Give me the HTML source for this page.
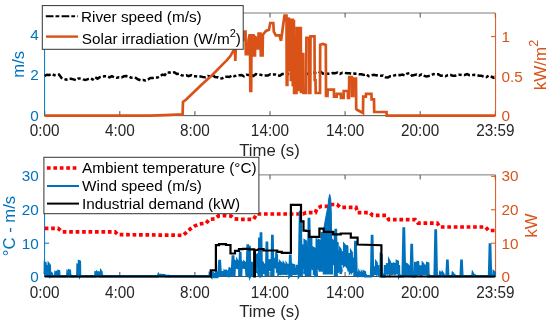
<!DOCTYPE html>
<html><head><meta charset="utf-8"><style>html,body{margin:0;padding:0;background:#fff;width:550px;height:324px;overflow:hidden}</style></head>
<body>
<svg width="550" height="324" viewBox="0 0 550 324" style="position:absolute;left:0;top:0;font-family:'Liberation Sans', Arial, Helvetica, sans-serif">
<rect width="550" height="324" fill="#fff"/>
<line x1="44.7" y1="13.0" x2="495.3" y2="13.0" stroke="#7a7a7a" stroke-width="1"/>
<line x1="44.7" y1="115.65" x2="495.3" y2="115.65" stroke="#4d4d4d" stroke-width="1"/>
<line x1="44.7" y1="115.65" x2="44.7" y2="111.15" stroke="#4d4d4d" stroke-width="1"/>
<line x1="44.7" y1="13.0" x2="44.7" y2="17.5" stroke="#4d4d4d" stroke-width="1"/>
<line x1="119.8" y1="115.65" x2="119.8" y2="111.15" stroke="#4d4d4d" stroke-width="1"/>
<line x1="119.8" y1="13.0" x2="119.8" y2="17.5" stroke="#4d4d4d" stroke-width="1"/>
<line x1="194.9" y1="115.65" x2="194.9" y2="111.15" stroke="#4d4d4d" stroke-width="1"/>
<line x1="194.9" y1="13.0" x2="194.9" y2="17.5" stroke="#4d4d4d" stroke-width="1"/>
<line x1="270.0" y1="115.65" x2="270.0" y2="111.15" stroke="#4d4d4d" stroke-width="1"/>
<line x1="270.0" y1="13.0" x2="270.0" y2="17.5" stroke="#4d4d4d" stroke-width="1"/>
<line x1="345.1" y1="115.65" x2="345.1" y2="111.15" stroke="#4d4d4d" stroke-width="1"/>
<line x1="345.1" y1="13.0" x2="345.1" y2="17.5" stroke="#4d4d4d" stroke-width="1"/>
<line x1="420.2" y1="115.65" x2="420.2" y2="111.15" stroke="#4d4d4d" stroke-width="1"/>
<line x1="420.2" y1="13.0" x2="420.2" y2="17.5" stroke="#4d4d4d" stroke-width="1"/>
<line x1="495.3" y1="115.65" x2="495.3" y2="111.15" stroke="#4d4d4d" stroke-width="1"/>
<line x1="495.3" y1="13.0" x2="495.3" y2="17.5" stroke="#4d4d4d" stroke-width="1"/>
<line x1="44.6" y1="13.0" x2="44.6" y2="116.15" stroke="#0072BD" stroke-width="1"/>
<line x1="495.6" y1="13.0" x2="495.6" y2="116.15" stroke="#D95319" stroke-width="1"/>
<line x1="44.6" y1="115.65" x2="49.1" y2="115.65" stroke="#0072BD" stroke-width="1"/>
<line x1="44.6" y1="75.2" x2="49.1" y2="75.2" stroke="#0072BD" stroke-width="1"/>
<line x1="44.6" y1="34.7" x2="49.1" y2="34.7" stroke="#0072BD" stroke-width="1"/>
<line x1="491" y1="115.65" x2="495.6" y2="115.65" stroke="#D95319" stroke-width="1"/>
<line x1="491" y1="76.2" x2="495.6" y2="76.2" stroke="#D95319" stroke-width="1"/>
<line x1="491" y1="36.6" x2="495.6" y2="36.6" stroke="#D95319" stroke-width="1"/>
<line x1="44.7" y1="174.9" x2="495.3" y2="174.9" stroke="#7a7a7a" stroke-width="1"/>
<line x1="44.7" y1="276.5" x2="495.3" y2="276.5" stroke="#4d4d4d" stroke-width="1"/>
<line x1="44.7" y1="276.5" x2="44.7" y2="272.0" stroke="#4d4d4d" stroke-width="1"/>
<line x1="44.7" y1="174.9" x2="44.7" y2="179.4" stroke="#4d4d4d" stroke-width="1"/>
<line x1="119.8" y1="276.5" x2="119.8" y2="272.0" stroke="#4d4d4d" stroke-width="1"/>
<line x1="119.8" y1="174.9" x2="119.8" y2="179.4" stroke="#4d4d4d" stroke-width="1"/>
<line x1="194.9" y1="276.5" x2="194.9" y2="272.0" stroke="#4d4d4d" stroke-width="1"/>
<line x1="194.9" y1="174.9" x2="194.9" y2="179.4" stroke="#4d4d4d" stroke-width="1"/>
<line x1="270.0" y1="276.5" x2="270.0" y2="272.0" stroke="#4d4d4d" stroke-width="1"/>
<line x1="270.0" y1="174.9" x2="270.0" y2="179.4" stroke="#4d4d4d" stroke-width="1"/>
<line x1="345.1" y1="276.5" x2="345.1" y2="272.0" stroke="#4d4d4d" stroke-width="1"/>
<line x1="345.1" y1="174.9" x2="345.1" y2="179.4" stroke="#4d4d4d" stroke-width="1"/>
<line x1="420.2" y1="276.5" x2="420.2" y2="272.0" stroke="#4d4d4d" stroke-width="1"/>
<line x1="420.2" y1="174.9" x2="420.2" y2="179.4" stroke="#4d4d4d" stroke-width="1"/>
<line x1="495.3" y1="276.5" x2="495.3" y2="272.0" stroke="#4d4d4d" stroke-width="1"/>
<line x1="495.3" y1="174.9" x2="495.3" y2="179.4" stroke="#4d4d4d" stroke-width="1"/>
<line x1="44.6" y1="174.9" x2="44.6" y2="277.0" stroke="#0072BD" stroke-width="1"/>
<line x1="495.6" y1="174.9" x2="495.6" y2="277.0" stroke="#D95319" stroke-width="1"/>
<line x1="44.6" y1="276.5" x2="49.1" y2="276.5" stroke="#0072BD" stroke-width="1"/>
<line x1="44.6" y1="243.2" x2="49.1" y2="243.2" stroke="#0072BD" stroke-width="1"/>
<line x1="44.6" y1="209.8" x2="49.1" y2="209.8" stroke="#0072BD" stroke-width="1"/>
<line x1="44.6" y1="176.3" x2="49.1" y2="176.3" stroke="#0072BD" stroke-width="1"/>
<line x1="491" y1="276.5" x2="495.6" y2="276.5" stroke="#D95319" stroke-width="1"/>
<line x1="491" y1="243.2" x2="495.6" y2="243.2" stroke="#D95319" stroke-width="1"/>
<line x1="491" y1="209.8" x2="495.6" y2="209.8" stroke="#D95319" stroke-width="1"/>
<line x1="491" y1="176.3" x2="495.6" y2="176.3" stroke="#D95319" stroke-width="1"/>
<polyline points="44.70,75.81 47.10,74.68 49.50,75.03 51.90,73.94 54.30,75.13 56.70,74.94 59.10,74.53 61.50,77.92 63.90,78.97 66.30,79.72 68.70,78.80 71.10,78.72 73.50,79.33 75.90,80.11 78.30,78.47 80.70,78.61 83.10,79.42 85.50,80.04 87.90,79.07 90.30,78.42 92.70,79.43 95.10,77.12 97.50,78.65 99.90,77.12 102.30,76.50 104.70,76.15 107.10,76.27 109.50,77.31 111.90,76.22 114.30,77.41 116.70,77.84 119.10,77.34 121.50,77.55 123.90,76.30 126.30,76.12 128.70,76.47 131.10,77.75 133.50,77.43 135.90,77.86 138.30,79.50 140.70,80.26 143.10,80.00 145.50,80.47 147.90,79.64 150.30,78.02 152.70,78.11 155.10,77.37 157.50,77.51 159.90,76.38 162.30,74.52 164.70,75.16 167.10,72.38 169.50,72.53 171.90,72.88 174.30,72.32 176.70,73.89 179.10,73.69 181.50,75.25 183.90,75.64 186.30,75.39 188.70,76.24 191.10,75.22 193.50,76.28 195.90,76.28 198.30,76.47 200.70,76.39 203.10,77.13 205.50,77.26 207.90,76.12 210.30,76.44 212.70,75.16 215.10,76.99 217.50,77.29 219.90,78.47 222.30,78.33 224.70,76.84 227.10,76.75 229.50,77.06 231.90,75.40 234.30,76.24 236.70,75.47 239.10,75.24 241.50,74.97 243.90,76.38 246.30,74.82 248.70,74.93 251.10,75.08 253.50,75.96 255.90,74.05 258.30,74.68 260.70,74.81 263.10,75.54 265.50,75.40 267.90,75.50 270.30,74.21 272.70,74.51 275.10,74.39 277.50,75.55 279.90,75.71 282.30,73.93 284.70,73.95 287.10,74.02 289.50,73.98 291.90,74.48 294.30,74.55 296.70,73.62 299.10,72.84 301.50,73.54 303.90,73.22 306.30,73.48 308.70,74.15 311.10,73.40 313.50,72.84 315.90,73.06 318.30,73.19 320.70,71.82 323.10,73.68 325.50,73.42 327.90,73.77 330.30,73.74 332.70,72.99 335.10,73.15 337.50,72.64 339.90,73.91 342.30,72.75 344.70,72.86 347.10,73.28 349.50,73.31 351.90,73.94 354.30,73.55 356.70,73.67 359.10,74.24 361.50,74.33 363.90,74.95 366.30,74.25 368.70,76.16 371.10,75.62 373.50,74.70 375.90,75.15 378.30,75.58 380.70,75.84 383.10,75.53 385.50,77.23 387.90,77.44 390.30,76.18 392.70,76.12 395.10,75.14 397.50,74.96 399.90,75.12 402.30,74.58 404.70,75.46 407.10,73.62 409.50,73.32 411.90,75.66 414.30,75.03 416.70,74.50 419.10,75.51 421.50,74.40 423.90,75.53 426.30,76.55 428.70,75.99 431.10,75.29 433.50,74.01 435.90,74.29 438.30,74.18 440.70,75.83 443.10,75.57 445.50,76.11 447.90,75.13 450.30,74.89 452.70,75.85 455.10,75.75 457.50,74.98 459.90,74.67 462.30,74.96 464.70,75.05 467.10,74.18 469.50,75.16 471.90,75.16 474.30,74.79 476.70,75.02 479.10,75.69 481.50,75.77 483.90,76.79 486.30,77.11 488.70,75.72 491.10,76.54 493.50,77.73 494.30,77.20" fill="none" stroke="#000" stroke-width="2.5" stroke-dasharray="6.4 2.2 3.2 2.2"/>
<polyline points="44.70,115.65 150.00,115.65 165.00,115.20 182.60,114.30 183.00,101.90 186.50,99.30 195.00,91.00 201.50,84.70 212.50,74.70 223.90,63.10 226.50,60.60 230.20,56.30 233.90,49.80 234.80,48.00 235.30,61.00 235.80,46.00 240.00,42.00 243.40,40.00 244.50,31.50 245.50,31.50 245.80,54.20 248.00,54.20 248.50,40.00 249.50,35.30 250.00,35.30 250.30,90.80 251.20,90.80 251.50,35.30 253.50,35.30 253.80,55.30 255.00,55.30 255.30,37.00 257.00,38.00 257.30,48.40 258.30,48.40 258.60,33.60 260.50,33.60 260.80,55.30 262.60,55.30 262.90,34.70 266.00,31.00 269.00,29.80 270.20,23.00 273.30,23.00 273.80,31.60 275.80,35.30 279.50,35.30 281.00,40.90 282.00,34.00 283.50,22.30 284.50,15.50 286.50,15.50 286.70,85.00 287.40,85.00 287.60,18.60 288.40,18.60 288.60,70.00 289.60,70.00 289.80,19.50 290.60,19.90 290.80,80.00 291.60,80.00 291.80,19.90 292.60,19.90 292.80,85.00 293.40,85.00 293.60,21.00 293.90,21.00 294.10,93.00 296.50,93.00 296.70,28.00 298.40,28.00 298.60,90.00 299.40,90.00 299.60,28.00 300.80,28.00 301.00,92.00 302.00,92.00 302.30,54.00 303.30,54.00 303.50,93.00 306.20,93.00 306.40,37.80 309.20,37.80 309.40,93.00 310.30,93.00 310.50,36.40 314.50,36.40 314.70,80.00 315.50,80.00 315.70,93.00 320.00,93.00 320.20,44.70 323.00,44.00 325.80,45.00 326.00,96.00 327.50,96.00 327.70,89.70 333.90,89.70 334.00,96.70 336.70,96.70 336.80,93.90 340.80,93.90 341.00,98.00 343.60,98.00 343.70,91.00 347.80,91.00 348.00,98.00 349.00,98.00 349.20,77.20 351.80,77.20 352.00,96.00 353.30,96.00 353.40,78.60 356.00,78.60 356.20,109.00 357.50,110.00 363.00,113.00 363.20,96.70 365.80,96.70 366.00,93.90 371.40,93.90 371.60,99.40 374.00,99.40 374.20,112.00 386.50,112.00 386.70,115.65 495.30,115.65" fill="none" stroke="#D95319" stroke-width="2.7" stroke-linejoin="miter"/>
<polyline points="44.70,228.30 58.00,228.30 62.00,231.80 115.00,231.80 118.00,234.60 183.00,235.30 190.20,229.00 194.50,226.10 199.60,223.90 206.20,223.20 209.10,219.50 214.90,218.80 218.50,215.90 224.40,215.50 231.00,216.00 234.50,218.80 241.00,219.30 253.50,219.30 257.00,214.00 303.00,214.00 306.00,212.70 315.40,212.70 316.80,208.60 321.00,206.40 329.00,206.40 331.70,204.50 337.20,204.50 340.00,207.30 356.00,207.30 357.60,212.70 370.00,212.70 372.60,215.40 386.00,215.40 388.80,219.60 415.20,219.60 418.00,223.10 437.20,223.10 440.00,227.00 485.60,227.00 488.50,230.50 495.00,230.50" fill="none" stroke="#f00" stroke-width="3.7" stroke-dasharray="3.7 2.75"/>
<polyline points="44.70,274.09 44.90,262.76 45.50,263.10 45.70,275.63 45.83,274.84 46.13,266.08 47.28,266.80 47.48,274.79 47.48,275.84 47.30,274.68 47.50,267.09 48.60,268.22 48.80,275.20 48.41,274.67 48.71,263.86 49.83,265.32 50.03,275.33 49.78,274.41 48.60,274.55 48.80,271.34 49.31,271.57 49.51,275.46 50.35,275.91 50.65,272.65 51.93,273.64 52.13,275.79 51.98,275.92 51.60,276.30 54.80,276.30 55.20,275.97 55.40,272.57 56.38,273.36 56.58,275.37 56.65,275.41 56.95,272.25 57.54,272.63 57.74,275.80 58.04,275.61 58.34,270.98 59.12,271.18 59.32,275.39 59.52,275.69 58.40,276.30 67.00,276.30 67.30,274.83 67.50,272.43 68.28,273.80 68.48,275.66 68.83,275.65 69.13,270.44 69.92,270.72 70.12,276.00 70.66,275.88 70.70,276.30 77.00,276.30 77.30,275.05 77.50,265.00 78.40,265.49 78.60,275.04 78.68,274.54 78.98,261.16 79.88,261.53 80.08,275.48 80.32,275.06 79.90,276.30 95.00,276.30 95.30,274.88 95.50,272.45 96.72,273.12 96.92,275.63 96.80,275.69 97.10,272.31 97.91,273.11 98.11,275.71 98.76,275.57 99.06,272.69 100.31,273.08 100.51,275.66 100.71,275.49 101.01,271.18 101.52,271.84 101.72,275.96 102.10,275.96 102.00,276.30 158.00,276.30 158.50,274.66 158.70,274.97 159.91,275.20 160.11,275.87 160.99,275.97 161.29,275.03 162.56,275.36 162.76,275.83 163.27,275.91 163.57,275.09 164.72,275.34 164.92,275.92 165.69,275.94 165.00,276.30 209.50,276.30 209.60,276.61 209.80,272.64 210.85,272.67 211.05,276.67 211.36,276.99 211.66,272.66 212.62,273.43 212.82,276.96 213.75,276.53 214.05,273.94 214.54,274.34 214.74,276.98 215.94,276.84 216.24,272.26 217.02,273.63 217.22,276.51 217.62,276.91 218.30,276.30 219.34,261.00 219.86,261.00 220.90,276.30 221.50,273.66 221.70,272.03 222.73,272.16 222.93,275.47 224.20,275.27 224.50,271.13 225.75,272.08 225.95,275.07 226.23,275.04 226.53,271.12 227.70,271.80 227.90,275.32 228.86,275.00 229.16,271.48 229.67,272.27 229.87,275.37 230.92,275.41 229.60,275.90 229.80,268.65 230.48,269.10 230.68,275.27 231.65,275.52 231.70,276.30 232.74,256.40 233.26,256.40 234.30,276.30 234.70,267.64 234.90,261.11 235.32,261.49 235.52,267.99 236.92,267.47 237.22,260.61 238.05,262.01 238.25,267.90 239.33,267.59 239.30,276.30 240.02,253.00 240.38,253.00 241.10,276.30 241.50,267.01 241.70,262.00 242.45,262.76 242.65,267.26 243.98,267.63 244.28,262.00 245.32,262.95 245.52,267.56 245.90,267.94 246.70,276.30 247.58,245.40 248.02,245.40 248.90,276.30 248.80,276.30 249.36,247.00 249.64,247.00 250.20,276.30 250.50,275.74 250.70,262.40 251.77,262.78 251.97,275.73 252.30,274.59 252.60,266.88 253.60,267.30 253.80,275.59 254.45,275.23 254.00,271.68 254.20,263.78 254.84,265.23 255.04,270.83 256.36,271.71 256.00,266.07 256.20,254.86 256.92,254.86 257.12,267.31 258.27,267.10 258.57,254.21 259.42,254.21 259.62,267.52 260.18,267.28 258.70,276.30 259.26,238.60 259.54,238.60 260.10,276.30 260.20,276.30 260.84,233.50 261.16,233.50 261.80,276.30 261.80,273.92 262.00,262.11 262.67,262.46 262.87,273.16 264.14,272.92 264.44,265.16 265.48,266.47 265.68,273.44 266.33,272.58 266.00,276.30 266.72,242.80 267.08,242.80 267.80,276.30 267.80,270.70 268.00,260.34 268.98,260.41 269.18,269.50 270.57,269.87 270.87,260.40 272.00,260.61 272.20,270.06 272.98,269.50 271.50,276.30 272.22,236.00 272.58,236.00 273.30,276.30 273.50,266.39 273.70,258.63 274.63,259.97 274.83,266.85 276.03,267.61 276.33,254.17 276.85,254.72 277.05,267.82 278.83,267.06 277.00,272.74 277.20,262.76 278.21,263.49 278.41,273.99 279.66,272.65 279.96,262.02 280.84,263.01 281.04,273.88 282.34,273.55 280.50,273.85 280.70,263.27 281.76,263.58 281.96,272.93 283.37,273.29 283.67,263.84 284.50,264.86 284.70,272.90 285.91,273.07 283.90,273.85 284.10,264.59 284.73,265.70 284.93,273.63 286.28,273.99 286.58,264.24 287.22,265.25 287.42,273.17 288.89,273.65 289.19,266.07 290.01,266.77 290.21,273.86 291.76,273.76 289.40,276.30 290.12,255.60 290.48,255.60 291.20,276.30 290.50,272.54 290.70,262.93 291.12,263.62 291.32,272.68 293.36,273.50 292.40,273.96 292.60,264.88 293.85,265.20 294.05,273.77 294.27,273.84 294.57,268.00 295.09,269.23 295.29,273.86 297.13,273.61 296.40,272.54 296.60,265.95 297.44,265.99 297.64,273.00 298.69,272.40 298.99,263.33 299.52,263.84 299.72,272.58 301.50,273.00 298.90,276.30 300.02,212.00 300.58,212.00 301.70,276.30 301.80,268.50 302.00,244.75 302.51,246.14 302.71,266.75 304.58,268.68 304.40,274.26 304.60,240.44 305.90,241.33 306.10,273.23 306.61,273.65 306.00,275.90 306.20,252.98 307.35,253.40 307.55,273.31 308.00,275.23 307.90,276.30 308.78,218.90 309.22,218.90 310.10,276.30 310.30,270.98 310.50,236.89 311.24,238.32 311.44,267.97 312.97,269.12 313.27,247.88 314.52,248.71 314.72,268.72 314.83,268.66 314.00,275.10 314.20,260.62 315.18,261.05 315.38,275.87 316.81,275.66 316.50,270.06 316.70,240.81 317.37,241.92 317.57,266.90 318.51,268.24 318.81,240.21 319.71,240.80 319.91,270.30 320.51,270.13 319.70,270.19 319.90,249.57 320.50,250.93 320.70,268.65 321.94,271.53 321.50,267.62 321.70,233.31 322.41,233.44 322.61,266.97 323.51,265.54 332.50,264.23 332.70,240.80 333.47,241.42 333.67,263.74 334.65,264.54 334.95,230.89 335.60,232.35 335.80,265.46 337.06,263.28 334.90,276.30 335.62,229.90 335.98,229.90 336.70,276.30 336.70,272.27 336.90,242.94 337.54,243.31 337.74,272.37 338.94,270.11 339.24,251.54 340.42,251.57 340.62,273.87 341.59,270.35 340.00,265.05 340.20,249.17 340.60,249.75 340.80,263.55 342.69,263.74 342.99,252.56 343.61,252.72 343.81,265.59 345.12,264.20 344.00,264.12 344.20,244.66 345.18,245.81 345.38,264.35 346.36,265.86 346.66,245.39 347.27,246.77 347.47,263.68 348.53,265.54 348.50,271.50 348.70,254.11 349.73,254.28 349.93,271.80 350.83,270.32 351.13,251.73 351.73,252.63 351.93,271.97 352.99,270.67 351.00,268.08 351.20,258.13 352.40,258.84 352.60,269.55 353.00,268.16 353.30,258.51 353.97,258.54 354.17,269.04 355.61,269.19 354.40,276.30 355.28,242.00 355.72,242.00 356.60,276.30 356.80,275.49 357.00,272.33 358.23,272.67 358.43,275.98 358.91,275.75 359.21,272.37 359.78,273.56 359.98,275.56 361.31,275.88 361.61,272.94 362.29,274.17 362.49,275.86 363.38,275.54 363.68,271.59 364.93,272.33 365.13,275.89 365.45,275.75 365.40,276.30 370.00,276.30 371.10,276.30 371.90,236.00 372.30,236.00 373.10,276.30 373.00,272.67 373.20,266.55 373.73,267.14 373.93,273.69 375.87,273.80 376.17,262.25 376.62,262.84 376.82,272.71 378.73,272.94 377.20,274.00 377.40,265.84 378.10,266.12 378.30,274.18 379.80,275.94 380.60,274.67 380.80,254.36 381.54,254.86 381.74,275.48 382.30,275.14 382.40,276.30 384.50,276.30 384.80,273.30 385.00,265.04 385.51,266.49 385.71,273.64 386.78,272.57 387.08,264.27 387.87,264.34 388.07,273.18 388.88,272.40 389.18,260.62 389.90,261.97 390.10,273.95 391.02,272.59 391.32,263.95 391.75,264.00 391.95,273.89 393.73,273.55 394.03,263.83 395.24,264.34 395.44,273.53 396.48,272.93 396.78,261.02 397.83,261.50 398.03,273.52 398.16,272.69 397.50,274.17 397.70,266.07 398.95,266.11 399.15,275.63 399.77,274.47 399.60,276.30 402.30,276.30 402.60,276.30 403.56,228.40 404.04,228.40 405.00,276.30 405.20,274.09 405.40,263.32 406.03,263.96 406.23,275.11 408.01,275.67 408.31,265.82 409.38,267.05 409.58,274.61 410.54,275.41 410.70,276.30 411.50,245.00 411.90,245.00 412.70,276.30 412.80,276.30 414.80,276.30 415.00,274.36 415.20,263.03 416.30,263.14 416.50,274.67 417.42,274.58 417.72,261.36 418.15,262.19 418.35,274.45 420.20,273.52 420.50,266.53 421.14,266.66 421.34,274.84 422.44,273.81 422.74,263.50 423.35,264.13 423.55,273.96 424.87,273.74 425.17,265.74 426.17,265.92 426.37,273.59 426.88,274.05 427.18,263.09 428.25,263.39 428.45,274.58 428.84,274.74 428.50,276.30 434.50,276.30 434.60,276.30 435.48,230.50 435.92,230.50 436.80,276.30 437.00,276.30 439.80,276.30 440.00,274.23 440.20,272.54 440.89,273.14 441.09,275.46 442.31,275.88 442.61,272.96 443.60,274.44 443.80,275.94 444.68,275.56 443.10,276.30 446.20,276.30 446.50,276.30 447.22,260.70 447.58,260.70 448.30,276.30 448.50,276.30 452.00,276.30 452.50,274.32 452.70,273.15 453.14,273.59 453.34,275.94 454.43,275.47 454.50,276.30 460.40,276.30 460.60,276.30 461.32,260.70 461.68,260.70 462.40,276.30 462.60,276.30 472.30,276.30 472.50,274.83 472.70,273.17 473.44,274.47 473.64,275.76 474.51,275.58 474.50,276.30 488.80,276.30 489.00,276.30 489.80,244.50 490.20,244.50 491.00,276.30 491.20,276.30 493.40,276.30 493.50,274.11 493.70,271.69 494.64,272.62 494.84,275.88 495.64,275.92" fill="none" stroke="#0072BD" stroke-width="2.4"/>
<polygon points="323.3,274 323.6,231 325,222 326.5,214 328,207 328.8,199 329.7,194.6 330.6,199 331.2,212 331.6,240 332.4,266 332.4,274" fill="#0072BD" stroke="#0072BD" stroke-width="1.2" stroke-linejoin="round"/>
<polyline points="44.70,276.50 210.80,276.50 210.80,270.30 215.90,270.30 215.90,245.20 219.00,245.20 219.00,244.20 226.00,244.20 226.00,245.00 230.50,245.00 230.50,253.50 235.00,253.50 235.00,250.80 239.00,250.80 239.00,249.20 243.00,249.20 243.00,248.80 249.00,248.80 249.00,249.40 254.20,249.40 254.20,276.50 254.90,276.50 254.90,250.50 257.00,250.00 259.00,249.20 263.60,249.20 263.60,250.50 277.30,250.50 277.30,251.90 281.80,251.90 281.80,252.80 290.90,252.80 290.90,204.80 301.00,204.80 301.00,221.40 303.50,221.40 303.50,230.70 306.00,230.70 306.00,231.00 309.20,231.00 309.20,236.90 319.40,236.90 319.40,228.70 323.70,228.70 323.70,231.80 333.00,231.80 333.00,234.30 340.70,234.30 340.70,233.50 350.80,233.50 350.80,237.70 357.60,237.70 357.60,244.50 381.40,245.20 381.40,276.50 495.30,276.50" fill="none" stroke="#000" stroke-width="2.2"/>
<text transform="translate(44.7,129.9) scale(1,1.05)" y="5.4" font-size="15.3" fill="#262626" text-anchor="middle">0:00</text>
<text transform="translate(119.8,129.9) scale(1,1.05)" y="5.4" font-size="15.3" fill="#262626" text-anchor="middle">4:00</text>
<text transform="translate(194.9,129.9) scale(1,1.05)" y="5.4" font-size="15.3" fill="#262626" text-anchor="middle">8:00</text>
<text transform="translate(270.0,129.9) scale(1,1.05)" y="5.4" font-size="15.3" fill="#262626" text-anchor="middle">14:00</text>
<text transform="translate(345.1,129.9) scale(1,1.05)" y="5.4" font-size="15.3" fill="#262626" text-anchor="middle">14:00</text>
<text transform="translate(420.2,129.9) scale(1,1.05)" y="5.4" font-size="15.3" fill="#262626" text-anchor="middle">20:00</text>
<text transform="translate(495.3,129.9) scale(1,1.05)" y="5.4" font-size="15.3" fill="#262626" text-anchor="middle">23:59</text>
<text x="269.5" y="155.5" font-size="16.7" fill="#262626" text-anchor="middle">Time (s)</text>
<text transform="translate(44.7,291.9) scale(1,1.05)" y="5.4" font-size="15.3" fill="#262626" text-anchor="middle">0:00</text>
<text transform="translate(119.8,291.9) scale(1,1.05)" y="5.4" font-size="15.3" fill="#262626" text-anchor="middle">4:00</text>
<text transform="translate(194.9,291.9) scale(1,1.05)" y="5.4" font-size="15.3" fill="#262626" text-anchor="middle">8:00</text>
<text transform="translate(270.0,291.9) scale(1,1.05)" y="5.4" font-size="15.3" fill="#262626" text-anchor="middle">14:00</text>
<text transform="translate(345.1,291.9) scale(1,1.05)" y="5.4" font-size="15.3" fill="#262626" text-anchor="middle">14:00</text>
<text transform="translate(420.2,291.9) scale(1,1.05)" y="5.4" font-size="15.3" fill="#262626" text-anchor="middle">20:00</text>
<text transform="translate(495.3,291.9) scale(1,1.05)" y="5.4" font-size="15.3" fill="#262626" text-anchor="middle">23:59</text>
<text x="269.5" y="316.9" font-size="16.7" fill="#262626" text-anchor="middle">Time (s)</text>
<text transform="translate(38.8,115.30)" y="5.4" font-size="15.3" fill="#0072BD" text-anchor="end">0</text>
<text transform="translate(38.8,74.90)" y="5.4" font-size="15.3" fill="#0072BD" text-anchor="end">2</text>
<text transform="translate(38.8,34.70)" y="5.4" font-size="15.3" fill="#0072BD" text-anchor="end">4</text>
<text transform="translate(501.5,115.20)" y="5.4" font-size="15.3" fill="#D95319" text-anchor="start">0</text>
<text transform="translate(501.5,76.50)" y="5.4" font-size="15.3" fill="#D95319" text-anchor="start">0.5</text>
<text transform="translate(501.5,37.00)" y="5.4" font-size="15.3" fill="#D95319" text-anchor="start">1</text>
<text transform="translate(38.8,276.30)" y="5.4" font-size="15.3" fill="#0072BD" text-anchor="end">0</text>
<text transform="translate(501.5,276.30)" y="5.4" font-size="15.3" fill="#D95319" text-anchor="start">0</text>
<text transform="translate(38.8,243.30)" y="5.4" font-size="15.3" fill="#0072BD" text-anchor="end">10</text>
<text transform="translate(501.5,243.30)" y="5.4" font-size="15.3" fill="#D95319" text-anchor="start">10</text>
<text transform="translate(38.8,209.90)" y="5.4" font-size="15.3" fill="#0072BD" text-anchor="end">20</text>
<text transform="translate(501.5,209.90)" y="5.4" font-size="15.3" fill="#D95319" text-anchor="start">20</text>
<text transform="translate(38.8,175.80)" y="5.4" font-size="15.3" fill="#0072BD" text-anchor="end">30</text>
<text transform="translate(501.5,175.80)" y="5.4" font-size="15.3" fill="#D95319" text-anchor="start">30</text>
<text transform="translate(23.6,64.3) rotate(-90)" font-size="16.7" fill="#0072BD" text-anchor="middle">m/s</text>
<text transform="translate(545.6,65) rotate(-90)" font-size="17" fill="#D95319" text-anchor="middle">kW/m<tspan font-size="12.5" dy="-7.5">2</tspan></text>
<text transform="translate(15,226) rotate(-90)" font-size="16.7" fill="#0072BD" text-anchor="middle">°C - m/s</text>
<text transform="translate(536.5,225.5) rotate(-90)" font-size="16.7" fill="#D95319" text-anchor="middle">kW</text>
<rect x="42.3" y="5.6" width="200.9" height="43.7" fill="#fff" stroke="#333" stroke-width="1"/>
<line x1="45.8" y1="16.2" x2="78" y2="16.2" stroke="#000" stroke-width="2" stroke-dasharray="7.7 2 3.8 2.3"/>
<line x1="46" y1="36.6" x2="78" y2="36.6" stroke="#D95319" stroke-width="2.4"/>
<text x="81" y="21.6" font-size="15.3" fill="#000">River speed (m/s)</text>
<text x="81.8" y="44.1" font-size="15.3" fill="#000">Solar irradiation (W/m<tspan font-size="11" dy="-6.8">2</tspan><tspan dy="6.8">)</tspan></text>
<rect x="43.9" y="157.3" width="215" height="56.4" fill="#fff" stroke="#333" stroke-width="1"/>
<line x1="46.9" y1="168" x2="76.4" y2="168" stroke="#f00" stroke-width="3.7" stroke-dasharray="3.7 2.75"/>
<line x1="47" y1="186" x2="79" y2="186" stroke="#0072BD" stroke-width="2"/>
<line x1="47" y1="203.6" x2="79" y2="203.6" stroke="#000" stroke-width="2"/>
<text x="82.1" y="173.4" font-size="15.3" fill="#000">Ambient temperature (°C)</text>
<text x="82.1" y="191" font-size="15.3" fill="#000">Wind speed (m/s)</text>
<text x="82.1" y="208.6" font-size="15.3" fill="#000">Industrial demand (kW)</text>
</svg>
</body></html>
